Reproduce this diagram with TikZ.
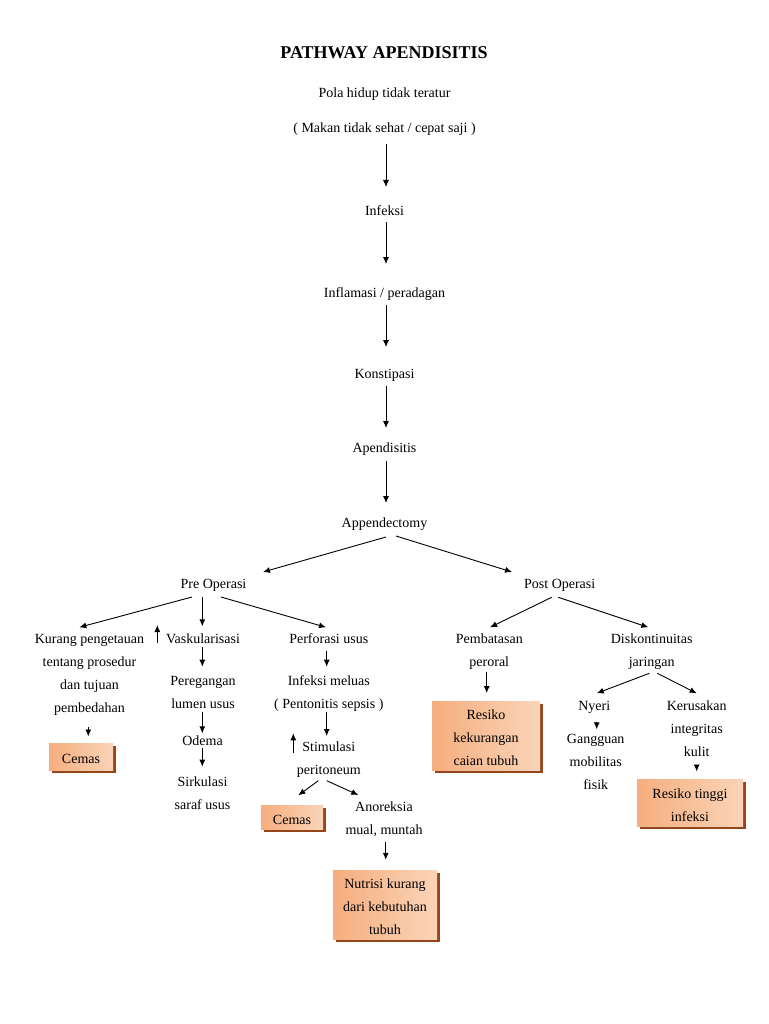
\documentclass[tikz,border=0pt]{standalone}
\usepackage{fontspec}
\setmainfont{Liberation Serif}
\usetikzlibrary{arrows.meta,shadows}
\definecolor{boxdark}{HTML}{F5AE7E}
\definecolor{boxmid}{HTML}{FDE9DB}
\definecolor{boxlight}{HTML}{FAD4B8}
\definecolor{shadowbrown}{HTML}{94471B}
\newcommand{\mlines}[1]{\begin{tabular}[t]{@{}c@{}}#1\end{tabular}}
\newcommand{\mcent}[1]{\raisebox{-2.5pt}[\height][\depth]{\begin{tabular}{@{}c@{}}#1\end{tabular}}}
\begin{document}
\begin{tikzpicture}[x=1pt,y=-1pt,
  txt/.style={anchor=base, inner sep=0pt, font=\fontsize{14}{23}\selectfont, text=black},
  ttl/.style={anchor=base, inner sep=0pt, font=\fontsize{18}{22}\selectfont\bfseries},
  sbox/.style={rectangle, inner sep=0pt, font=\fontsize{14}{23}\selectfont,
    left color=boxdark, middle color=boxmid, right color=boxlight,
    drop shadow={shadow xshift=2.5pt, shadow yshift=-2.5pt, fill=shadowbrown, opacity=1}},
  arr/.style={-{Latex[length=7pt,width=6pt]}, line width=0.9pt},
]
\fill[white] (0,0) rectangle (768,1024);
\useasboundingbox (0,0) rectangle (768,1024);

% main chain
\node[ttl] (title) at (384,59) {PATHWAY APENDISITIS};
\node[txt] (pola) at (384.5,98) {Pola hidup tidak teratur};
\node[txt] (makan) at (384.5,133) {( Makan tidak sehat / cepat saji )};
\node[txt] (infeksi) at (384.5,215) {Infeksi};
\node[txt] (inflamasi) at (384.5,297) {Inflamasi / peradagan};
\node[txt] (konstipasi) at (384.5,378) {Konstipasi};
\node[txt] (apendisitis) at (384.5,452) {Apendisitis};
\node[txt] (appy) at (384.5,527) {Appendectomy};
\node[txt] (pre) at (213.5,588) {Pre Operasi};
\node[txt] (post) at (559.7,588) {Post Operasi};

% pre operasi branch
\node[txt] (kurang) at (89.5,643.3) {\mlines{Kurang pengetauan\\tentang prosedur\\dan tujuan\\pembedahan}};
\node[txt] (vask) at (203,643.3) {Vaskularisasi};
\node[txt] (pereg) at (203,685) {\mlines{Peregangan\\lumen usus}};
\node[txt] (odema) at (202.5,745) {Odema};
\node[txt] (sirk) at (202.5,786) {\mlines{Sirkulasi\\saraf usus}};
\node[txt] (perf) at (328.8,643.3) {Perforasi usus};
\node[txt] (infm) at (328.8,685) {\mlines{Infeksi meluas\\( Pentonitis sepsis )}};
\node[txt] (stim) at (328.8,751.7) {\mlines{Stimulasi\\peritoneum}};
\node[txt] (anor) at (384,811.7) {\mlines{Anoreksia\\mual, muntah}};

% post operasi branch
\node[txt] (pemb) at (489.3,643.3) {\mlines{Pembatasan\\peroral}};
\node[txt] (disk) at (651.7,643.3) {\mlines{Diskontinuitas\\jaringan}};
\node[txt] (nyeri) at (594.3,710) {Nyeri};
\node[txt] (gang) at (595.7,743.3) {\mlines{Gangguan\\mobilitas\\fisik}};
\node[txt] (kerus) at (696.7,710) {\mlines{Kerusakan\\integritas\\kulit}};

% boxes
\node[sbox, minimum width=64pt, minimum height=27pt] (cemas1) at (81,756.5) {\mcent{Cemas}};
\node[sbox, minimum width=62pt, minimum height=24pt] (cemas2) at (292,817) {\mcent{Cemas}};
\node[sbox, minimum width=104pt, minimum height=65pt] (nutrisi) at (385,904.5) {\mcent{Nutrisi kurang\\dari kebutuhan\\tubuh}};
\node[sbox, minimum width=108pt, minimum height=69pt] (resiko) at (486,735.5) {\mcent{Resiko\\kekurangan\\caian tubuh}};
\node[sbox, minimum width=106pt, minimum height=47pt] (rti) at (690,802.5) {\mcent{Resiko tinggi\\infeksi}};

% main arrows
\draw[arr] ([shift={(1.5,11)}]makan.base) -- ([shift={(1.5,-28)}]infeksi.base);
\draw[arr] ([shift={(1.5,7)}]infeksi.base) -- ([shift={(1.5,-33)}]inflamasi.base);
\draw[arr] ([shift={(1.5,8)}]inflamasi.base) -- ([shift={(1.5,-31)}]konstipasi.base);
\draw[arr] ([shift={(1.5,8)}]konstipasi.base) -- ([shift={(1.5,-24)}]apendisitis.base);
\draw[arr] ([shift={(1.5,9)}]apendisitis.base) -- ([shift={(1.5,-24)}]appy.base);
\draw[arr] ([shift={(1.5,10)}]appy.base) -- ([shift={(49.5,-16)}]pre.base);
\draw[arr] ([shift={(11.5,9)}]appy.base) -- ([shift={(-47.7,-16)}]post.base);

% pre operasi arrows
\draw[arr] ([shift={(-21.5,9)}]pre.base) -- ([shift={(-10.2,-16)}]kurang.base);
\draw[arr] ([shift={(-11.2,9)}]pre.base) -- ([shift={(-0.7,-17)}]vask.base);
\draw[arr] ([shift={(7.5,9)}]pre.base) -- ([shift={(-2.8,-16)}]perf.base);
\draw[arr] ([shift={(-45.7,-0.5)}]vask.base) -- ([shift={(-45.7,-18.3)}]vask.base);
\draw[arr] ([shift={(-0.7,4)}]vask.base) -- ([shift={(-0.7,-18.3)}]pereg.base);
\draw[arr] ([shift={(-0.7,26.7)}]pereg.base) -- ([shift={(-0.2,-11.7)}]odema.base);
\draw[arr] ([shift={(-0.2,2.5)}]odema.base) -- ([shift={(-0.2,-19.3)}]sirk.base);
\draw[arr] ([shift={(-2.1,7.4)}]perf.base) -- ([shift={(-2.1,-18.3)}]infm.base);
\draw[arr] ([shift={(-2.1,26.7)}]infm.base) -- ([shift={(-2.1,-15.7)}]stim.base);
\draw[arr] ([shift={(-35.5,1)}]stim.base) -- ([shift={(-35.5,-18.4)}]stim.base);
\draw[arr] ([shift={(-10.5,29)}]stim.base) -- ([shift={(6.3,-9.5)}]cemas2.north);
\draw[arr] ([shift={(-2.1,29)}]stim.base) -- ([shift={(-25.7,-16.7)}]anor.base);
\draw[arr] ([shift={(1.7,30)}]anor.base) -- ([shift={(0.7,-10)}]nutrisi.north);
\draw[arr] ([shift={(-1.2,83.4)}]kurang.base) -- ([shift={(7.3,-6.3)}]cemas1.north);

% post operasi arrows
\draw[arr] ([shift={(-8,9.3)}]post.base) -- ([shift={(0.7,-16)}]pemb.base);
\draw[arr] ([shift={(-1.4,9.3)}]post.base) -- ([shift={(-3.4,-16)}]disk.base);
\draw[arr] ([shift={(-2.6,28.4)}]pemb.base) -- ([shift={(0.7,-7.7)}]resiko.north);
\draw[arr] ([shift={(-2.4,30)}]disk.base) -- ([shift={(2.4,-16.7)}]nyeri.base);
\draw[arr] ([shift={(5.6,30)}]disk.base) -- ([shift={(0,-16.7)}]kerus.base);
\draw[arr] ([shift={(2.4,11.7)}]nyeri.base) -- ([shift={(1,-14)}]gang.base);
\draw[arr] ([shift={(0,55)}]kerus.base) -- ([shift={(6.7,-7.3)}]rti.north);
\end{tikzpicture}
\end{document}
